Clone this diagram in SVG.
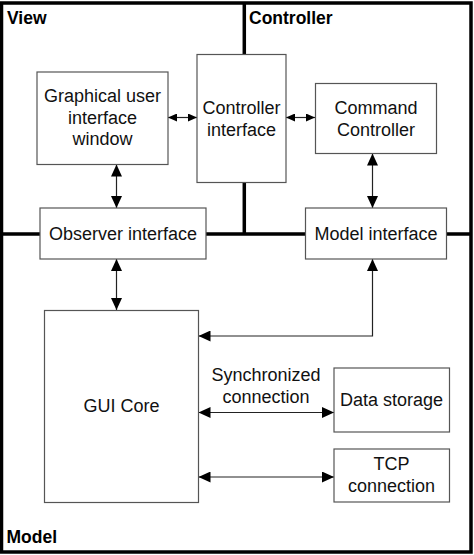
<svg xmlns="http://www.w3.org/2000/svg" width="474" height="555" viewBox="0 0 474 555">
<style>
.frame{fill:none;stroke:#000;stroke-width:3.5}
.div{stroke:#000;stroke-width:3.5;fill:none}
.box{fill:#fff;stroke:#555;stroke-width:1.2}
.t{font-family:"Liberation Sans",Arial,sans-serif;font-size:18px;fill:#111;text-anchor:middle}
.h{font-family:"Liberation Sans",Arial,sans-serif;font-size:17.5px;font-weight:bold;fill:#000}
.c{fill:none;stroke:#222;stroke-width:1.2}
</style>
<defs>
<marker id="as" markerUnits="userSpaceOnUse" markerWidth="10" markerHeight="8" refX="9" refY="4" orient="auto-start-reverse"><path d="M0,0 L9,4 L0,8 z" fill="#000"/></marker>
<marker id="al" markerUnits="userSpaceOnUse" markerWidth="13" markerHeight="11" refX="12" refY="5.5" orient="auto-start-reverse"><path d="M0,0 L12,5.5 L0,11 z" fill="#000"/></marker>
</defs>
<rect x="0" y="0" width="474" height="555" fill="#fff"/>
<g id="frame">
<rect class="frame" x="1.5" y="3" width="469.5" height="549"/>
<path class="div" d="M244.3,3 V234 M1.5,234 H471"/>
<text class="h" x="7" y="24">View</text>
<text class="h" x="249" y="24">Controller</text>
<text class="h" x="6.5" y="543">Model</text>
</g>
<g id="connectors">
<path class="c" d="M168,117.5 H197" marker-start="url(#as)" marker-end="url(#as)"/>
<path class="c" d="M286,117.5 H315" marker-start="url(#as)" marker-end="url(#as)"/>
<path class="c" d="M116.5,164.5 V208" marker-start="url(#al)" marker-end="url(#al)"/>
<path class="c" d="M372.5,153.5 V208" marker-start="url(#al)" marker-end="url(#al)"/>
<path class="c" d="M116.5,259 V310" marker-start="url(#al)" marker-end="url(#al)"/>
<path class="c" d="M372.5,259 V336 H198.5" marker-start="url(#al)" marker-end="url(#al)"/>
<path class="c" d="M198.5,412.5 H334" marker-start="url(#al)" marker-end="url(#al)"/>
<path class="c" d="M198.5,477 H334" marker-start="url(#al)" marker-end="url(#al)"/>
<text class="t" x="266" y="381">Synchronized</text>
<text class="t" x="266" y="402.5">connection</text>
</g>
<g id="gui-window">
<rect class="box" x="37" y="72" width="131" height="92.5"/>
<text class="t" x="102.5" y="102">Graphical user</text>
<text class="t" x="102.5" y="123.5">interface</text>
<text class="t" x="102.5" y="145">window</text>
</g>
<g id="controller-interface">
<rect class="box" x="197" y="54.5" width="89" height="128"/>
<text class="t" x="241.5" y="114">Controller</text>
<text class="t" x="241.5" y="135.5">interface</text>
</g>
<g id="command-controller">
<rect class="box" x="315.5" y="83.5" width="121" height="70"/>
<text class="t" x="376" y="114">Command</text>
<text class="t" x="376" y="135.5">Controller</text>
</g>
<g id="observer-interface">
<rect class="box" x="40" y="208" width="166" height="51"/>
<text class="t" x="123" y="240">Observer interface</text>
</g>
<g id="model-interface">
<rect class="box" x="305.5" y="208" width="141" height="51"/>
<text class="t" x="376" y="240">Model interface</text>
</g>
<g id="gui-core">
<rect class="box" x="44.5" y="310.5" width="154" height="192"/>
<text class="t" x="121.5" y="412">GUI Core</text>
</g>
<g id="data-storage">
<rect class="box" x="334" y="368" width="115.5" height="64"/>
<text class="t" x="391.5" y="406">Data storage</text>
</g>
<g id="tcp-connection">
<rect class="box" x="334" y="449" width="115.5" height="53"/>
<text class="t" x="391.5" y="470">TCP</text>
<text class="t" x="391.5" y="491.5">connection</text>
</g>
</svg>
